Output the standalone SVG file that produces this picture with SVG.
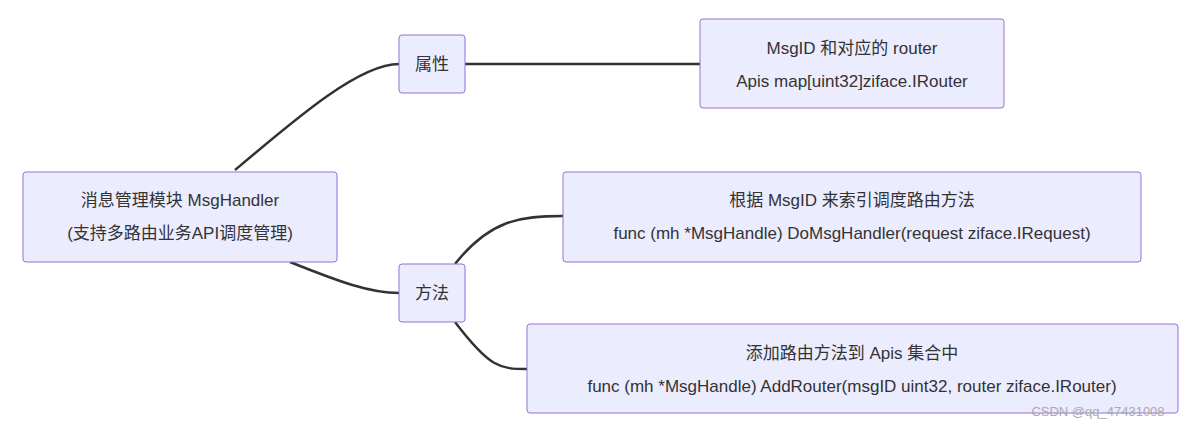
<svg xmlns="http://www.w3.org/2000/svg" width="1198" height="429" viewBox="0 0 1198 429">
<style>
.n rect{fill:#ECECFF;stroke:#9370DB;stroke-width:1}
text{font-family:"Liberation Sans","Noto Sans CJK SC",sans-serif;font-size:17px;fill:#333;text-anchor:middle}
.e path{fill:none;stroke:#333;stroke-width:2.5}
</style>
<rect width="1198" height="429" fill="#fff"/>
<g class="e">
<path d="M235,170 C300,115 360,64 399,64"/>
<path d="M290,262 C340,282 370,293 399,293"/>
<path d="M465,64 L700,64"/>
<path d="M455,264 C490,220 520,216 563,216"/>
<path d="M455,322 C490,368 500,369 527,369"/>
</g>
<g class="n" id="root"><rect x="23" y="172" width="314" height="90" rx="3"/><text x="180" y="206">消息管理模块 MsgHandler</text><text x="180" y="239">(支持多路由业务API调度管理)</text></g>
<g class="n" id="attr"><rect x="399" y="35" width="66" height="58" rx="3"/><text x="432" y="70">属性</text></g>
<g class="n" id="method"><rect x="399" y="264" width="66" height="58" rx="3"/><text x="432" y="299">方法</text></g>
<g class="n" id="apis"><rect x="700" y="19" width="304" height="89" rx="3"/><text x="852" y="54">MsgID 和对应的 router</text><text x="852" y="87">Apis map[uint32]ziface.IRouter</text></g>
<g class="n" id="do"><rect x="563" y="172" width="578" height="90" rx="3"/><text x="852" y="206">根据 MsgID 来索引调度路由方法</text><text x="852" y="239">func (mh *MsgHandle) DoMsgHandler(request ziface.IRequest)</text></g>
<g class="n" id="add"><rect x="527" y="324" width="651" height="89" rx="3"/><text x="852" y="359">添加路由方法到 Apis 集合中</text><text x="852" y="392">func (mh *MsgHandle) AddRouter(msgID uint32, router ziface.IRouter)</text></g>
<text x="1098" y="416" style="font-size:13px;fill:#aaa">CSDN @qq_47431008</text>
</svg>
